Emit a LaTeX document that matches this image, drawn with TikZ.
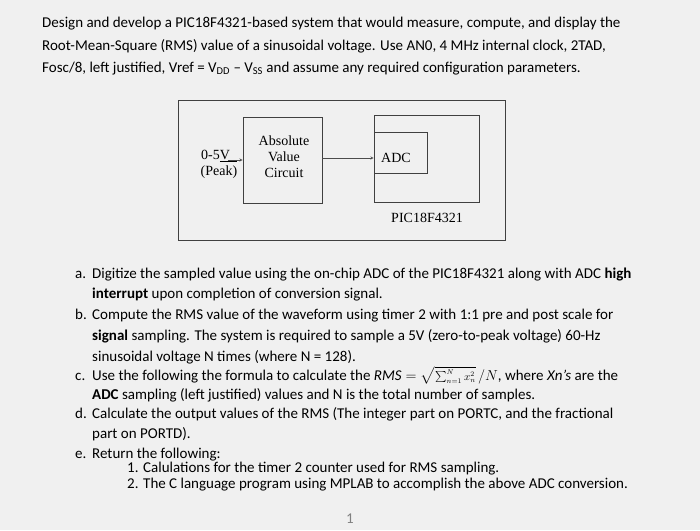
\documentclass[tikz,border=0pt]{standalone}
\usepackage{fontspec}
\setmainfont{Carlito}
\newfontfamily\tms{Liberation Serif}
\usepackage{amsmath}
\begin{document}
\begin{tikzpicture}[x=1pt,y=-1pt,
  ln/.style={anchor=base west,inner sep=0pt,font=\fontsize{15}{17}\selectfont},
  bx/.style={draw=black!75,line width=0.6pt},
  tl/.style={font=\tms\fontsize{14}{16}\selectfont,inner sep=0pt,align=center},
  arr/.style={->,>=stealth,line width=0.5pt,black!70}]
\fill[black!6] (0,0) rectangle (700,530);
\useasboundingbox (0,0) rectangle (700,530);
\node[ln] (l1) at (42,27) {Design and develop a PIC18F4321-based system that would measure, compute, and display the};
\node[ln] (l2) at (42,50) {Root-Mean-Square (RMS) value of a sinusoidal voltage. Use AN0, 4 MHz internal clock, 2TAD,};
\node[ln] (l3) at (42,72) {Fosc/8, left justified, Vref = V\textsubscript{DD} -- V\textsubscript{SS} and assume any required configuration parameters.};
% diagram
\draw[bx] (178,100) rectangle (505,240);
\node[bx,minimum width=79,minimum height=86,inner sep=0pt] (abs) at (282.5,160) {};
\node[tl] (abst) at (284,157) {Absolute\\Value\\Circuit};
\node[bx,minimum width=105,minimum height=87,inner sep=0pt] (pic) at (426.5,158.5) {};
\node[bx,minimum width=53,minimum height=41,inner sep=0pt] (adc) at (400.5,152.5) {};
\node[tl,anchor=west] (adct) at (381,158) {ADC};
\node[tl] (pict) at (427,218) {PIC18F4321};
\node[tl] (inp) at (219,164) {0-5\underline{V\hspace{7pt}}\\(Peak)};
\coordinate (in0) at (228,160);
\draw[arr] (in0) -- (abs.west |- in0);
\draw[arr] (abs.east |- adct) -- (adc.west |- adct);
% items
\node[ln] at (75,278) {a.};
\node[ln] at (92,278) {Digitize the sampled value using the on-chip ADC of the PIC18F4321 along with ADC \textbf{high}};
\node[ln] at (92,298) {\textbf{interrupt} upon completion of conversion signal.};
\node[ln] at (75,319) {b.};
\node[ln] at (92,319) {Compute the RMS value of the waveform using timer 2 with 1:1 pre and post scale for};
\node[ln] at (92,340) {\textbf{signal} sampling. The system is required to sample a 5V (zero-to-peak voltage) 60-Hz};
\node[ln] at (92,361) {sinusoidal voltage N times (where N = 128).};
\node[ln] at (75,380) {c.};
\node[ln] at (92,380) {Use the following the formula to calculate the $\mathit{RMS} = \sqrt{\scriptstyle\sum_{n=1}^{N} x_n^2}\,/N$, where \textit{Xn's} are the};
\node[ln] at (92,399) {\textbf{ADC} sampling (left justified) values and N is the total number of samples.};
\node[ln] at (75,418) {d.};
\node[ln] at (92,418) {Calculate the output values of the RMS (The integer part on PORTC, and the fractional};
\node[ln] at (92,438) {part on PORTD).};
\node[ln] at (75,458) {e.};
\node[ln] at (92,458) {Return the following:};
\node[ln] at (127,472) {1.};
\node[ln] at (143,472) {Calulations for the timer 2 counter used for RMS sampling.};
\node[ln] at (127,488) {2.};
\node[ln] at (143,488) {The C language program using MPLAB to accomplish the above ADC conversion.};
\node[ln,black!50] at (346,523) {1};
\end{tikzpicture}
\end{document}
